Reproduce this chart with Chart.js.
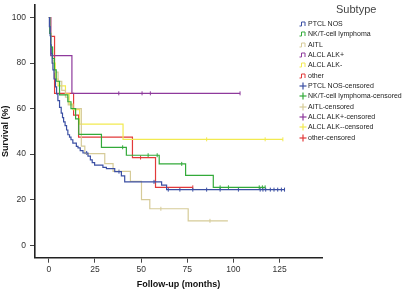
<!DOCTYPE html>
<html>
<head>
<meta charset="utf-8">
<script src="https://cdn.jsdelivr.net/npm/chart.js@4.4.1/dist/chart.umd.min.js"></script>
<style>
  html, body { margin: 0; padding: 0; background: #fff; }
  #wrap { position: relative; width: 406px; height: 290px; font-family: "Liberation Sans", Arial, sans-serif; }
  #c { position: absolute; left: 0; top: 0; }
  #legend { position: absolute; left: 298px; top: 3px; width: 108px; }
  #legend .title { position: absolute; left: 38px; top: 0; font-size: 11px; color: #444; white-space: nowrap; }
  #legend .item { position: absolute; left: 0; height: 10px; font-size: 7px; color: #222; white-space: nowrap; line-height: 10px; }
  #legend .item svg { position: absolute; left: 1px; top: 1px; }
  #legend .item span { position: absolute; left: 10px; top: 0; }
</style>
</head>
<body>
<div id="wrap">
  <canvas id="c" width="406" height="290"></canvas>
  <div id="legend"></div>
</div>
<script>
// ---- data ----
const groups = ['PTCL NOS', 'NK/T-cell lymphoma', 'AITL', 'ALCL ALK+', 'ALCL ALK-', 'other'];
const groupColors = ['#3b4fa3', '#33aa3a', '#d6cb98', '#8e3a9c', '#f2ea50', '#e23a3a'];

const ptclTimes = [0, 0.3, 0.7, 1.0, 1.3, 1.8, 2.2, 2.8, 3.6, 4.2, 4.9, 5.8, 6.7, 7.4, 8.0, 8.8, 9.6, 10.3, 11.2, 12.0, 13.0, 14.9, 15.8, 17.0, 18.5, 21.2, 22.5, 23.5, 24.8, 29.3, 31.2, 35.7, 39.3, 41.1, 61.1, 63.8, 127.7];
const ptclSurv  = [100, 96, 92, 88, 84, 80, 77, 73, 69.5, 66.5, 63.5, 60.5, 58, 56, 54.2, 52.5, 50.6, 48.5, 47.5, 46.3, 44.8, 43.4, 42.7, 41.5, 40.5, 39.1, 37.5, 36.3, 35.2, 34.2, 33.6, 32.3, 30.4, 27.8, 26.4, 24.4, 24.4];
const ptclCens  = [20.5, 38, 57, 64.7, 71, 78, 85.5, 92.8, 102.7, 114.5, 116, 117.5, 120, 122, 124, 126, 127.7];

const nktTimes = [0, 0.5, 1, 2, 3, 4, 5.8, 10.3, 12, 14.5, 16.2, 28.5, 42, 59.8, 74.1, 89.1, 117.2];
const nktSurv  = [100, 93, 87, 82, 77, 72, 66, 63, 60, 55.5, 48.7, 43, 39.5, 35.7, 30.7, 25.4, 25.4];
const nktCens  = [40, 53.8, 58.7, 72, 92.8, 97.3, 114, 115.7, 117.2];

const aitlTimes = [0, 0.5, 1, 2, 3, 5, 7, 9, 10.5, 13, 17.6, 19.5, 30.3, 34.8, 44.2, 50.2, 54.7, 75.5, 97];
const aitlSurv  = [100, 93, 87, 81, 76, 72, 68, 65, 61.6, 60, 43.5, 40.2, 35.8, 32.4, 28, 20, 16, 10.7, 10.7];
const aitlCens  = [60.7, 87.3];

const alkpTimes = [0, 1, 12.5, 103.6];
const alkpSurv  = [100, 83.3, 66.7, 66.7];
const alkpCens  = [37.9, 50.5, 55, 103.6];

const alknTimes = [0, 0.5, 1, 2, 3.5, 5, 9, 11, 13, 16.7, 40.2, 126.8];
const alknSurv  = [100, 93, 86, 80, 73, 70, 66.5, 62, 59.5, 53.2, 46.5, 46.5];
const alknCens  = [85.5, 117.2, 126.8];

const otherTimes = [0, 1, 3.1, 13.4, 16.1, 45.3, 57.8, 78];
const otherSurv  = [100, 91.7, 66.7, 57.1, 47.5, 38.5, 25.4, 25.4];
const otherCens  = [49.7, 78];

const xTicks = [0, 25, 50, 75, 100, 125];
const yTicks = [0, 20, 40, 60, 80, 100];

// ---- build ----
const curves = [
  [ptclTimes, ptclSurv, ptclCens],
  [nktTimes, nktSurv, nktCens],
  [aitlTimes, aitlSurv, aitlCens],
  [alkpTimes, alkpSurv, alkpCens],
  [alknTimes, alknSurv, alknCens],
  [otherTimes, otherSurv, otherCens]
];
function stepAt(times, vals, t) {
  let v = vals[0];
  for (let i = 0; i < times.length; i++) { if (times[i] <= t) v = vals[i]; }
  return v;
}
const datasets = [];
curves.forEach((c, i) => {
  datasets.push({
    label: groups[i],
    type: 'line',
    data: c[0].map((t, k) => ({ x: t, y: c[1][k] })),
    stepped: 'before',
    borderColor: groupColors[i],
    borderWidth: 1.2,
    pointRadius: 0,
    fill: false
  });
});
curves.forEach((c, i) => {
  datasets.push({
    label: groups[i] + '-censored',
    type: 'scatter',
    data: c[2].map(t => ({ x: t, y: stepAt(c[0], c[1], t) })),
    pointStyle: 'line',
    rotation: 90,
    pointRadius: 2,
    borderColor: groupColors[i],
    backgroundColor: groupColors[i],
    borderWidth: 1,
    showLine: false
  });
});

const axisColor = '#222';
new Chart(document.getElementById('c'), {
  type: 'line',
  data: { datasets },
  options: {
    responsive: false,
    devicePixelRatio: 1,
    animation: false,
    layout: { padding: { top: 2, right: 84, left: 0, bottom: 0 } },
    plugins: { legend: { display: false }, tooltip: { enabled: false } },
    scales: {
      x: {
        type: 'linear',
        min: -7.5, max: 148,
        border: { display: true, color: axisColor, width: 1.6 },
        grid: { display: true, drawOnChartArea: false, drawTicks: true, tickLength: 5, color: '#444', lineWidth: 1 },
        ticks: { font: { family: '"Liberation Sans", Arial, sans-serif', size: 8.5 }, color: '#333', padding: 2, maxRotation: 0 },
        title: { display: true, text: 'Follow-up (months)', font: { family: '"Liberation Sans", Arial, sans-serif', size: 9, weight: 'bold' }, color: '#111', padding: 0 },
        afterBuildTicks: (ax) => { ax.ticks = xTicks.map(v => ({ value: v })); },
        afterFit: (ax) => { ax.height = 32.3; ax.paddingLeft = 0; ax.paddingRight = 0; }
      },
      y: {
        type: 'linear',
        min: -5.5, max: 105.5,
        border: { display: true, color: axisColor, width: 1.6 },
        grid: { display: true, drawOnChartArea: false, drawTicks: true, tickLength: 5, color: '#444', lineWidth: 1 },
        ticks: { font: { family: '"Liberation Sans", Arial, sans-serif', size: 8.5 }, color: '#333', padding: 4 },
        title: { display: true, text: 'Survival (%)', font: { family: '"Liberation Sans", Arial, sans-serif', size: 9, weight: 'bold' }, color: '#111', padding: 0 },
        afterBuildTicks: (ax) => { ax.ticks = yTicks.map(v => ({ value: v })); },
        afterFit: (ax) => { ax.width = 35; ax.paddingTop = 0; ax.paddingBottom = 0; }
      }
    }
  }
});

// ---- HTML legend ----
const leg = document.getElementById('legend');
const title = document.createElement('div');
title.className = 'title';
title.textContent = 'Subtype';
leg.appendChild(title);
const rowTop = 16, rowH = 10.34;
datasets.forEach((d, i) => {
  const it = document.createElement('div');
  it.className = 'item';
  it.style.top = (rowTop + i * rowH) + 'px';
  const col = d.borderColor;
  const icon = d.type === 'line'
    ? '<svg width="8" height="8"><polyline points="0.5,6 2.5,6 2.5,2 6,2 6,6" fill="none" stroke="' + col + '" stroke-width="1"/></svg>'
    : '<svg width="8" height="8"><line x1="0.5" y1="4" x2="7.5" y2="4" stroke="' + col + '" stroke-width="1.2"/><line x1="4" y1="0.5" x2="4" y2="7.5" stroke="' + col + '" stroke-width="1.2"/></svg>';
  it.innerHTML = icon + '<span>' + d.label + '</span>';
  leg.appendChild(it);
});
</script>
</body>
</html>
